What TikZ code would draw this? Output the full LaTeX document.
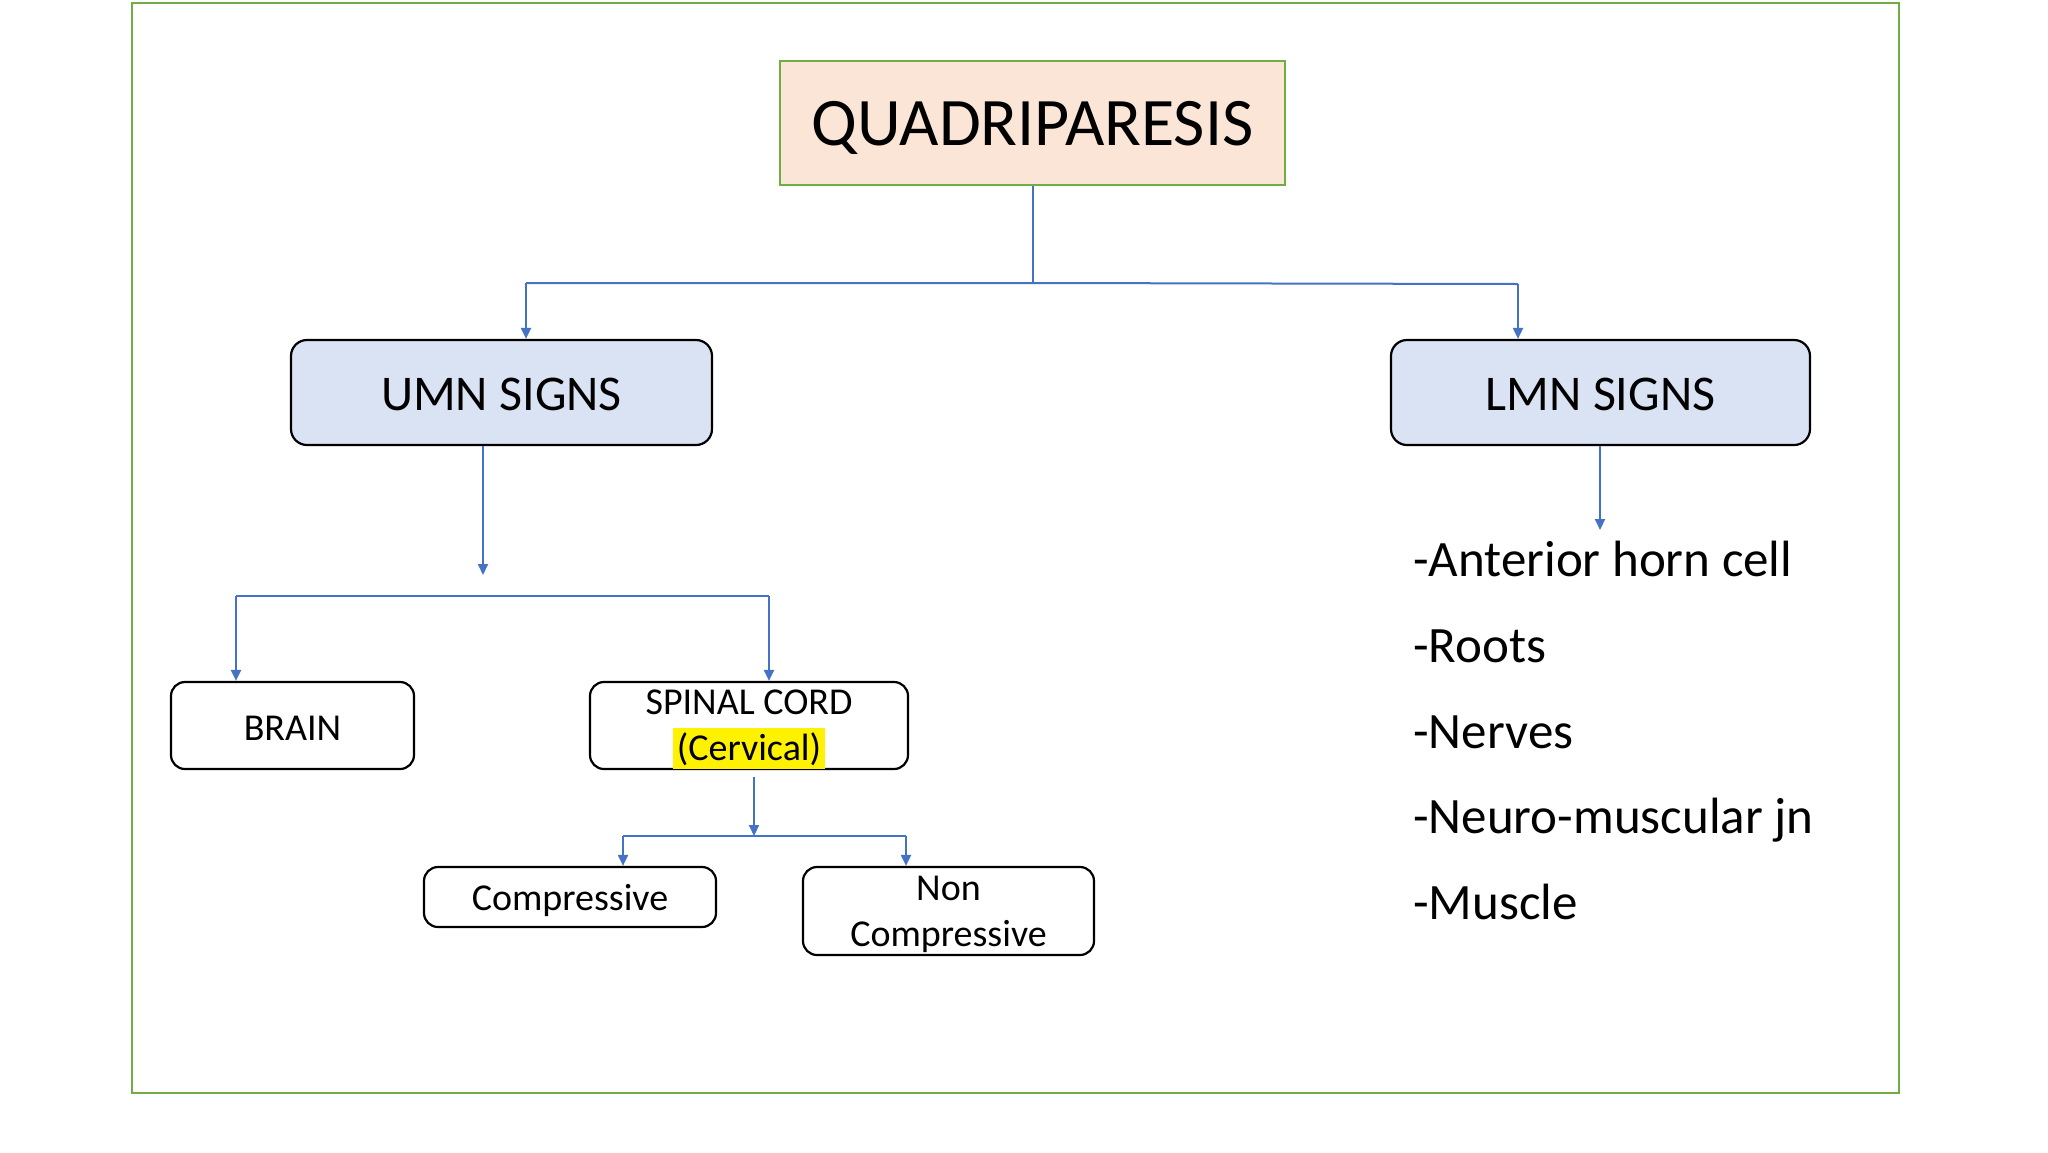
\documentclass[tikz,border=0pt]{standalone}
\usepackage{fontspec}
\setmainfont{Carlito}
\usetikzlibrary{arrows.meta}
\definecolor{conn}{HTML}{4472C4}
\definecolor{umnfill}{HTML}{DAE3F3}
\definecolor{quadfill}{HTML}{FBE5D6}
\definecolor{frameg}{HTML}{70AD47}
\newcommand{\dn}[2]{\raisebox{-#1}[\height][\depth]{#2}}
\begin{document}
\begin{tikzpicture}[x=1pt,y=-1pt,
  conline/.style={draw=conn,line width=2pt},
  arr/.style={conline,-{Triangle[length=11pt,width=10pt]}},
  bigbox/.style={draw=black,line width=2.2pt,rounded corners=16pt,fill=umnfill,font=\fontsize{50}{60}\selectfont,inner sep=0pt},
  smallbox/.style={draw=black,line width=2.2pt,rounded corners=14pt,fill=white,font=\fontsize{38}{46}\selectfont,align=center,inner sep=0pt},
  listitem/.style={anchor=base west,font=\fontsize{51}{60}\selectfont,inner sep=0pt}
]
\useasboundingbox (0,0) rectangle (2048,1152);
\fill[white] (0,0) rectangle (2048,1152);
\draw[frameg,line width=2pt] (132,3) rectangle (1899,1093);

\node[draw=frameg,line width=2.5pt,fill=quadfill,minimum width=505pt,minimum height=124pt,inner sep=0pt,font=\fontsize{68}{78}\selectfont] (quad) at (1032.5,123) {\dn{5pt}{QUADRIPARESIS}};

\node[bigbox,minimum width=421pt,minimum height=105pt] (umn) at (501.5,392.5) {\dn{1.5pt}{UMN SIGNS}};
\node[bigbox,minimum width=419pt,minimum height=105pt] (lmn) at (1600.5,392.5) {\dn{1.5pt}{LMN SIGNS}};

\node[smallbox,minimum width=243pt,minimum height=87pt] (brain) at (292.5,725.5) {\dn{2.5pt}{BRAIN}};
\node[smallbox,minimum width=318pt,minimum height=87pt] (spinal) at (749,725.5) {\dn{4pt}{SPINAL CORD}\\\dn{4pt}{\fboxsep=4pt\colorbox{yellow}{(Cervical)}}};

\node[smallbox,minimum width=292pt,minimum height=60pt] (comp) at (570,897) {\dn{3pt}{Compressive}};
\node[smallbox,minimum width=291pt,minimum height=88pt] (noncomp) at (948.5,911) {\dn{3pt}{Non}\\\dn{3pt}{Compressive}};

% list
\node[listitem] (l1) at (1413,576) {-Anterior horn cell};
\node[listitem] (l2) at (1413,662) {-Roots};
\node[listitem] (l3) at (1413,748) {-Nerves};
\node[listitem] (l4) at (1413,833) {-Neuro-muscular jn};
\node[listitem] (l5) at (1413,919) {-Muscle};

% top tree
\coordinate (j1) at (1032.5,283);
\coordinate (jl) at (526,283);
\coordinate (jr) at (1518,284);
\draw[conline] (quad.south) -- (j1);
\draw[conline] (jl) -- (j1) -- (jr);
\draw[arr] (jl) -- (jl |- umn.north);
\draw[arr] (jr) -- (jr |- lmn.north);

% UMN branch
\coordinate (us) at (483,445);
\coordinate (ue) at (483,575);
\draw[arr] (us |- umn.south) -- (ue);
\coordinate (bl) at (236,596);
\coordinate (br) at (769,596);
\draw[conline] (bl) -- (br);
\draw[arr] (bl) -- (bl |- brain.north);
\draw[arr] (br) -- (br |- spinal.north);

% spinal branch
\coordinate (ss) at (754,777);
\coordinate (se) at (754,836);
\draw[arr] (ss) -- (se);
\coordinate (cl) at (623,836);
\coordinate (cr) at (906,836);
\draw[conline] (cl) -- (cr);
\draw[arr] (cl) -- (cl |- comp.north);
\draw[arr] (cr) -- (cr |- noncomp.north);

% LMN branch
\coordinate (ls) at (1600,445);
\coordinate (le) at (1600,530);
\draw[arr] (ls |- lmn.south) -- (le);
\end{tikzpicture}
\end{document}
